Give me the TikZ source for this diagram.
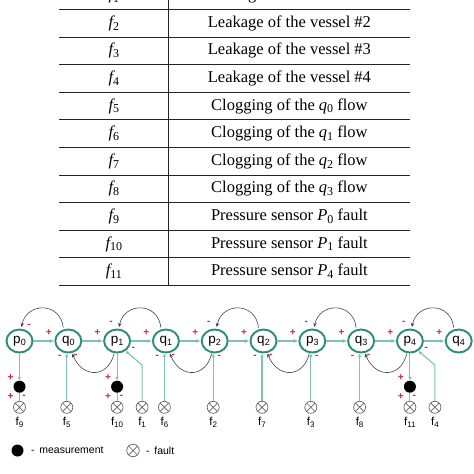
\documentclass[tikz,border=0pt]{standalone}
\usepackage{fontspec}
\setmainfont{Liberation Serif}
\newfontfamily\diag{Liberation Sans}
\usetikzlibrary{shapes.geometric,arrows.meta,calc}
\definecolor{nodec}{RGB}{45,140,120}
\definecolor{linec}{RGB}{125,195,180}
\definecolor{signc}{RGB}{215,35,60}
\definecolor{arcc}{RGB}{70,70,70}
\definecolor{rulec}{RGB}{35,35,35}
\definecolor{faultc}{RGB}{100,100,100}
\newcommand\tsub[2]{{\itshape #1}\raisebox{-0.35ex}{\fontsize{12}{12}\selectfont #2}}
\newcommand\dsub[2]{#1\raisebox{-0.3ex}{\fontsize{9}{9}\selectfont #2}}
\newcommand\lsub[2]{#1\raisebox{-0.3ex}{\fontsize{8}{8}\selectfont #2}}
\tikzset{
  cell/.style={inner sep=0pt, text height=12pt, text depth=3.5pt, font=\fontsize{16.5}{18}\selectfont},
  rule/.style={draw=rulec, line width=0.8pt},
  st/.style={ellipse, draw=nodec, line width=1.9pt, minimum width=26pt, minimum height=23pt, inner sep=0pt, font=\diag\fontsize{13.5}{13.5}\selectfont},
  harr/.style={draw=linec, line width=1.2pt, -{Latex[length=4.5pt,width=4pt]}},
  fline/.style={draw=linec, line width=1.1pt},
  farr/.style={fline, -{Latex[length=3.5pt,width=3.5pt]}},
  fbarc/.style={draw=arcc, line width=0.6pt, -{Stealth[length=4pt,width=3.5pt]}},
  sign/.style={text=signc, inner sep=0pt, font=\diag\bfseries\fontsize{10}{10}\selectfont},
  meas/.style={circle, fill=black, minimum size=12pt, inner sep=0pt},
  fault/.style={circle, draw=faultc, line width=0.7pt, minimum size=12pt, inner sep=0pt,
    path picture={\draw[faultc, line width=0.7pt] (path picture bounding box.north west) -- (path picture bounding box.south east) (path picture bounding box.north east) -- (path picture bounding box.south west);}},
  flab/.style={inner sep=0pt, font=\diag\fontsize{11.5}{11.5}\selectfont},
  legt/.style={inner sep=0pt, anchor=west, font=\diag\fontsize{10.5}{11}\selectfont}
}
\begin{document}
\begin{tikzpicture}[x=1pt,y=-1pt]
\useasboundingbox (0,0) rectangle (474,474);
\clip (0,0) rectangle (474,474);
\fill[white] (0,0) rectangle (474,474);
% ---------- table ----------
\foreach \k in {0,...,10}{
  \draw[rule] (59,{9.3+27.6*\k}) -- (410,{9.3+27.6*\k});
}
\draw[rule] (168.7,-30) -- (168.7,285.3);
\node[cell] (a1) at (113.9,-4.5) {\tsub{f}{1}};
\node[cell] (b1) at (289.4,-4.5) {Leakage of the vessel \#1};
\node[cell] (a2) at (113.9,23.1) {\tsub{f}{2}};
\node[cell] (b2) at (289.4,23.1) {Leakage of the vessel \#2};
\node[cell] (a3) at (113.9,50.7) {\tsub{f}{3}};
\node[cell] (b3) at (289.4,50.7) {Leakage of the vessel \#3};
\node[cell] (a4) at (113.9,78.3) {\tsub{f}{4}};
\node[cell] (b4) at (289.4,78.3) {Leakage of the vessel \#4};
\node[cell] (a5) at (113.9,105.9) {\tsub{f}{5}};
\node[cell] (b5) at (289.4,105.9) {Clogging of the \tsub{q}{0} flow};
\node[cell] (a6) at (113.9,133.5) {\tsub{f}{6}};
\node[cell] (b6) at (289.4,133.5) {Clogging of the \tsub{q}{1} flow};
\node[cell] (a7) at (113.9,161.1) {\tsub{f}{7}};
\node[cell] (b7) at (289.4,161.1) {Clogging of the \tsub{q}{2} flow};
\node[cell] (a8) at (113.9,188.7) {\tsub{f}{8}};
\node[cell] (b8) at (289.4,188.7) {Clogging of the \tsub{q}{3} flow};
\node[cell] (a9) at (113.9,216.3) {\tsub{f}{9}};
\node[cell] (b9) at (289.4,216.3) {Pressure sensor \tsub{P}{0} fault};
\node[cell] (a10) at (113.9,243.9) {\tsub{f}{10}};
\node[cell] (b10) at (289.4,243.9) {Pressure sensor \tsub{P}{1} fault};
\node[cell] (a11) at (113.9,271.5) {\tsub{f}{11}};
\node[cell] (b11) at (289.4,271.5) {Pressure sensor \tsub{P}{4} fault};
% ---------- diagram nodes ----------
\foreach \i/\x in {0/19.5,1/117.1,2/214.7,3/312.3,4/409.9}{
  \node[st] (p\i) at (\x,341) {\dsub{p}{\i}};
  \node[st] (q\i) at (\x+48.8,341) {\dsub{q}{\i}};
}
% horizontal flow arrows
\foreach \i in {0,...,4}{
  \draw[harr] (p\i) -- (q\i);
  \node[sign] (hq\i) at ([shift={(-19.5,-8)}]q\i.center) {+};
}
\foreach \i/\j in {0/1,1/2,2/3,3/4}{
  \draw[harr] (q\i) -- (p\j);
  \node[sign] (hp\j) at ([shift={(-19.5,-8)}]p\j.center) {+};
}
% top feedback arcs q_i -> p_i
\foreach \i in {0,...,4}{
  \draw[fbarc] ([shift={(-5,-13.5)}]q\i.center) .. controls +(-3,-26) and +(5,-25) .. ([shift={(2,-14)}]p\i.center);
}
\node[sign] (tm0) at ([shift={(9.5,-15)}]p0.center) {-};
\foreach \i in {1,...,4}{
  \node[sign] (tm\i) at ([shift={(-6,-18)}]p\i.center) {-};
}
% bottom feedback arcs p_j -> q_i
\foreach \i/\j in {0/1,1/2,2/3,3/4}{
  \draw[fbarc] ([shift={(-3,12.5)}]p\j.center) .. controls +(-6,25) and +(10,25) .. ([shift={(4,12.5)}]q\i.center);
  \node[sign] (bl\i) at ([shift={(-8.5,15.5)}]q\i.center) {-};
  \node[sign] (br\i) at ([shift={(7.5,14.5)}]q\i.center) {-};
}
% fault inputs straight up into nodes
\foreach \n/\f in {q0/5,q1/6,p2/2,q2/7,p3/3,q3/8}{
  \node[fault] (x\f) at ([shift={(-1.5,66.3)}]\n.center) {};
  \node[flab] (l\f) at ([shift={(0,15)}]x\f.center) {\lsub{f}{\f}};
  \draw[farr] (x\f.north) -- (x\f.north |- \n.south);
}
\node[sign] (pm2) at ([shift={(4.5,16)}]p2.center) {-};
\node[sign] (pm3) at ([shift={(4.5,16)}]p3.center) {-};
% measured pressures
\foreach \n/\f in {p0/9,p1/10,p4/11}{
  \node[meas] (m\f) at ([shift={(0,45.7)}]\n.center) {};
  \node[fault] (x\f) at ([shift={(0,66.3)}]\n.center) {};
  \node[flab] (l\f) at ([shift={(0,15)}]x\f.center) {\lsub{f}{\f}};
  \draw[farr] (\n.south) -- (m\f.north);
  \draw[fline] (x\f.north) -- (m\f.south);
  \node[sign] (ma\f) at ([shift={(-9,-9)}]m\f.center) {+};
  \node[sign] (mb\f) at ([shift={(-9,10)}]m\f.center) {+};
  \node[sign] (mc\f) at ([shift={(4.5,10)}]m\f.center) {-};
}
% leakage faults with bent lines
\foreach \n/\f in {p1/1,p4/4}{
  \node[fault] (x\f) at ([shift={(25,66.3)}]\n.center) {};
  \node[flab] (l\f) at ([shift={(0,15)}]x\f.center) {\lsub{f}{\f}};
  \coordinate (k\f) at ([shift={(25,24)}]\n.center);
  \draw[farr] (x\f.north) -- (k\f) -- (\n.-50);
  \node[sign] (lm\f) at ([shift={(16.5,7.5)}]\n.center) {-};
}
% legend
\node[meas] (legm) at (17.5,450.5) {};
\node[legt] (legmt) at (31,450.5) {-\, measurement};
\node[fault, minimum size=12.5pt] (legf) at (133,450.5) {};
\node[legt] (legft) at (146,450.5) {-\, fault};
\end{tikzpicture}
\end{document}
